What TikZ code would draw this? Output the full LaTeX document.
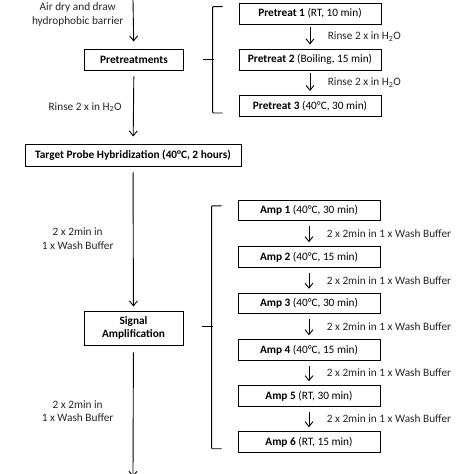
\documentclass[tikz,border=0pt]{standalone}
\usepackage{fontspec}
\setmainfont{Carlito}
\usetikzlibrary{arrows.meta,calc}

\begin{document}
\begin{tikzpicture}[x=1pt,y=-1pt,
    font=\fontsize{11.3}{13.5}\selectfont,
    stepbox/.style={draw,line width=0.9pt,minimum height=21pt,inner sep=1pt},
    subbox/.style={stepbox,minimum width=142pt},
    flow/.style={line width=0.9pt,-{Straight Barb[length=5pt,width=8pt]}},
    brc/.style={line width=0.9pt,rounded corners=1pt},
    lbl/.style={align=center,text=black!85}]
  \useasboundingbox (0,0) rectangle (474,474);
  % main column
  \coordinate (top) at (133,0);
  \coordinate (bot) at (133,477);
  \node[stepbox,minimum width=99pt] (pre) at (134,59.5) {\textbf{Pretreatments}};
  \node[stepbox,minimum width=216pt,minimum height=22pt] (hyb) at (133,155) {\textbf{Target Probe Hybridization (40°C, 2 hours)}};
  \node[stepbox,minimum width=99pt,minimum height=34pt,align=center] (sig) at (133.5,328) {\textbf{Signal}\\\textbf{Amplification}};
  \draw[flow,shorten >=7pt] (top) -- node[lbl,pos=0.3,anchor=east,xshift=-6pt] {Air dry and draw\\hydrophobic barrier} (pre);
  \draw[flow,shorten <=6pt,shorten >=7pt] (pre) -- node[lbl,anchor=east,xshift=-8pt] {Rinse 2 x in H\textsubscript{2}O} (hyb);
  \draw[flow,shorten <=6pt,shorten >=4pt] (hyb) -- node[lbl,anchor=east,xshift=-16pt] {2 x 2min in\\1 x Wash Buffer} (sig);
  \draw[flow,shorten <=7pt] (sig) -- node[lbl,anchor=east,xshift=-16pt] {2 x 2min in\\1 x Wash Buffer} (bot);
  % pretreat steps
  \node[subbox] (p1) at (310,13.5) {\textbf{Pretreat 1} (RT, 10 min)};
  \node[subbox] (p2) at (310,59.5) {\textbf{Pretreat 2} (Boiling, 15 min)};
  \node[subbox] (p3) at (310,106) {\textbf{Pretreat 3} (40°C, 30 min)};
  \foreach \a/\b in {p1/p2,p2/p3}
    \draw[flow,shorten <=3pt,shorten >=4pt] (\a) -- node[lbl,anchor=west,xshift=14pt] {Rinse 2 x in H\textsubscript{2}O} (\b);
  % amplification steps
  \node[subbox,minimum height=20.5pt] (a1) at (309,210.5) {\textbf{Amp 1} (40°C, 30 min)};
  \node[subbox,minimum height=20.5pt] (a2) at (309,257) {\textbf{Amp 2} (40°C, 15 min)};
  \node[subbox,minimum height=20.5pt] (a3) at (309,303.5) {\textbf{Amp 3} (40°C, 30 min)};
  \node[subbox,minimum height=20.5pt] (a4) at (309,350) {\textbf{Amp 4} (40°C, 15 min)};
  \node[subbox,minimum height=20.5pt] (a5) at (309,396) {\textbf{Amp 5} (RT, 30 min)};
  \node[subbox,minimum height=20.5pt] (a6) at (309,442) {\textbf{Amp 6} (RT, 15 min)};
  \foreach \a/\b in {a1/a2,a2/a3,a3/a4,a4/a5,a5/a6}
    \draw[flow,shorten <=5pt,shorten >=4pt] (\a) -- node[lbl,anchor=west,xshift=14pt] {2 x 2min in 1 x Wash Buffer} (\b);
  % braces
  \draw[brc] ($(p1.north west)+(-16,4)$) -- ++(-10,0) |- ($(p3.south west)+(-16,-4)$);
  \draw[brc] ($(pre.east)+(19,0)$) -- ++(11,0);
  \draw[brc] ($(a1.north west)+(-16,6)$) -- ++(-10,0) |- ($(a6.south west)+(-16,-4)$);
  \draw[brc] ($(sig.east)+(19,-2)$) -- ++(11,0);
\end{tikzpicture}
\end{document}
